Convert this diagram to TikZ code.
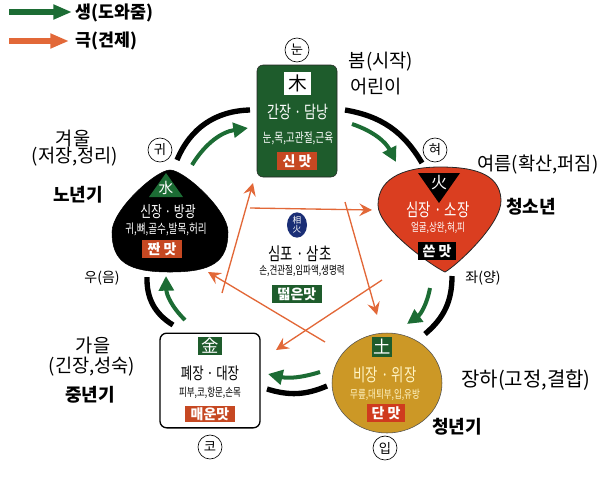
\documentclass[tikz,border=0pt]{standalone}
\usepackage{fontspec}
\setmainfont{Noto Sans CJK KR}
\newfontfamily\narrowkr[FakeStretch=0.75]{Noto Sans CJK KR}
\usetikzlibrary{arrows.meta,shapes.geometric}
\definecolor{woodgreen}{RGB}{30,92,44}
\definecolor{saenggreen}{RGB}{28,108,52}
\definecolor{geukorange}{RGB}{226,104,56}
\definecolor{firered}{RGB}{218,62,32}
\definecolor{earthgold}{RGB}{204,152,38}
\definecolor{tastered}{RGB}{198,72,34}
\definecolor{sanghwablue}{RGB}{26,46,118}
\definecolor{earthtext}{RGB}{255,244,196}
\tikzset{
	saeng/.style={line width=3pt, color=saenggreen, -{Triangle[length=11pt,width=11pt]}},
	ring/.style={line width=4pt},
	geuk/.style={line width=1pt, color=geukorange, -{Stealth[length=9.5pt,width=9.5pt,inset=3.5pt]}},
	organ/.style={font=\narrowkr\fontsize{13}{15}\selectfont},
	organsub/.style={font=\narrowkr\fontsize{8.5}{10}\selectfont},
	taste/.style={fill=tastered, text=white, inner xsep=2.5pt, inner ysep=0pt, minimum height=13pt, font=\bfseries\fontsize{10.5}{12}\selectfont},
	symbox/.style={fill=woodgreen, text=white, inner sep=0pt, font=\fontsize{13}{13}\selectfont},
	gate/.style={circle, draw, line width=0.5pt, inner sep=0pt, minimum size=18pt, font=\fontsize{10}{10}\selectfont},
	season/.style={font=\fontsize{14}{16}\selectfont},
	age/.style={font=\bfseries\fontsize{13.5}{15}\selectfont},
}

\begin{document}
\begin{tikzpicture}[x=0.75pt, y=-0.75pt]
	%%%%% START %%%%%
	\useasboundingbox (0,0) rectangle (606,493);
	
	\coordinate (sgtail) at (9,12);
	\coordinate (sghead) at (72,12);
	\draw[saeng, line width=3.8pt, -{Triangle[length=14pt,width=10.5pt]}] (sgtail) -- (sghead);
	\node[anchor=west, font=\bfseries\fontsize{13}{15}\selectfont] (sglabel) at (71,13) {생(도와줌)};
	\coordinate (gktail) at (9,41);
	\coordinate (gkhead) at (69,41);
	\draw[geuk, line width=3.8pt, -{Triangle[length=14pt,width=10.5pt]}] (gktail) -- (gkhead);
	\node[anchor=west, font=\bfseries\fontsize{13}{15}\selectfont] (gklabel) at (71,41) {극(견제)};
	
	\node[draw=black!85, fill=woodgreen, rounded corners=4.5pt, minimum width=60pt, minimum height=84pt] (wood) at (297,121) {};
	\node[fill=white, minimum width=20pt, minimum height=17pt, inner sep=0pt, font=\fontsize{14}{14}\selectfont] (woodsym) at (297.5,83.5) {木};
	\node[organ, text=white] (woodorgan) at (298,112) {간장 · 담낭};
	\node[organsub, text=white, font=\narrowkr\fontsize{9.7}{11}\selectfont] (woodpart) at (298,138) {눈,목,고관절,근육};
	\node[taste, minimum width=30pt] (woodtaste) at (297,161) {신 맛};
	
	\draw[fill=firered, draw=black!85, line width=0.6pt] (440,167) .. controls (470,167) and (500,172) .. (501,200) .. controls (502,224) and (456,266) .. (445,272) .. controls (432,266) and (378,228) .. (378,205) .. controls (378,175) and (410,167) .. (440,167);
	\fill[black] (418,173) -- (460,173) -- (439,203) -- cycle;
	\node[text=white, inner sep=0pt, font=\fontsize{12}{12}\selectfont] (firesym) at (439,183) {火};
	\node[organ, text=white, font=\narrowkr\fontsize{13.4}{15}\selectfont] (fireorgan) at (438,210) {심장 · 소장};
	\node[organsub, text=white] (firepart) at (438,228) {얼굴,상완,혀,피};
	\node[taste, fill=black, minimum width=29pt] (firetaste) at (437,251) {쓴 맛};
	
	\draw[fill=black] (170,170) .. controls (184,170) and (228,210) .. (228,232) .. controls (228,262) and (212,272) .. (170,272) .. controls (128,272) and (112,262) .. (112,232) .. controls (112,210) and (156,170) .. (170,170);
	\fill[saenggreen] (166,173) -- (183,197) -- (149,197) -- cycle;
	\node[text=white, inner sep=0pt, font=\fontsize{11}{11}\selectfont] (watersym) at (166,188) {水};
	\node[organ, text=white, font=\narrowkr\fontsize{11.8}{13}\selectfont] (waterorgan) at (168,212) {신장 · 방광};
	\node[organsub, text=white, font=\narrowkr\fontsize{9.6}{11}\selectfont] (waterpart) at (166,229) {귀,뼈,골수,발목,허리};
	\node[taste, minimum width=30pt] (watertaste) at (162,249) {짠 맛};
	
	\node[ellipse, draw=black!70, fill=earthgold, minimum width=82.5pt, minimum height=75pt] (earth) at (387,383) {};
	\node[symbox, minimum size=15pt] (earthsym) at (382,347) {土};
	\node[organ, text=earthtext, font=\narrowkr\fontsize{13.4}{15}\selectfont] (earthorgan) at (385,375) {비장 · 위장};
	\node[organsub, text=earthtext] (earthpart) at (385,395) {무릎,대퇴부,입,유방};
	\node[taste, fill=firered!95!black, minimum width=28.5pt] (earthtaste) at (386,413) {단 맛};
	
	\node[draw=black, line width=1pt, fill=white, rounded corners=5pt, minimum width=75pt, minimum height=71pt] (metal) at (210,380.5) {};
	\node[symbox, minimum width=18pt, minimum height=13.5pt] (metalsym) at (210,346) {金};
	\node[organ, font=\narrowkr\fontsize{12.4}{14}\selectfont] (metalorgan) at (210,373) {폐장 · 대장};
	\node[organsub] (metalpart) at (210,393) {피부,코,항문,손목};
	\node[taste, minimum width=37.5pt, minimum height=11.5pt] (metaltaste) at (210,414) {매운맛};
	
	\node[ellipse, fill=sanghwablue, text=white, inner sep=0pt, minimum width=15pt, minimum height=19pt, align=center, font=\fontsize{6.5}{7}\selectfont] (sanghwa) at (297,225) {相\\火};
	\node[organ, font=\narrowkr\fontsize{13.4}{15}\selectfont] (centerorgan) at (300,254) {심포 · 삼초};
	\node[organsub] (centerpart) at (302,271) {손,견관절,임파액,생명력};
	\node[taste, fill=woodgreen, minimum width=38pt] (centertaste) at (297,294) {떫은맛};
	
	\node[gate] (nungate) at (297,50) {눈};
	\node[gate] (hyeogate) at (435,150) {혀};
	\node[gate] (gwigate) at (160,150) {귀};
	\node[gate] (kogate) at (210,447) {코};
	\node[gate] (ipgate) at (385,448) {입};
	
	\node[season] (spring) at (381,62) {봄(시작)};
	\node[season] (child) at (376,87) {어린이};
	\node[season] (summer) at (538,165) {여름(확산,퍼짐)};
	\node[age] (teen) at (531,207) {청소년};
	\node[font=\fontsize{10.5}{12}\selectfont] (yang) at (483,278) {좌(양)};
	\node[season, font=\fontsize{15}{17}\selectfont] (latesummer) at (526,380) {장하(고정,결합)};
	\node[age] (youth) at (457,427) {청년기};
	\node[season] (winter) at (73,138) {겨울};
	\node[season] (winterkey) at (75,157) {(저장,정리)};
	\node[age] (old) at (78,195) {노년기};
	\node[font=\fontsize{10.5}{12}\selectfont] (yin) at (102,278) {우(음)};
	\node[season] (autumn) at (93,345) {가을};
	\node[season] (autumnkey) at (92,367) {(긴장,성숙)};
	\node[age] (middle) at (90,395) {중년기};
	
	\coordinate (wfring1) at (345,110);
	\coordinate (wfring2) at (422,163);
	\coordinate (feRing1) at (452,276);
	\coordinate (feRing2) at (425,334);
	\coordinate (emring1) at (327,386);
	\coordinate (emring2) at (267,389);
	\coordinate (mwring1) at (173,325);
	\coordinate (mwring2) at (147,277);
	\coordinate (wwring1) at (177,160);
	\coordinate (wwring2) at (250,110);
	\draw[ring] (wfring1) to[bend left=25] (wfring2);
	\draw[ring] (feRing1) to[bend left=25] (feRing2);
	\draw[ring] (emring1) to[bend left=20] (emring2);
	\draw[ring] (mwring1) to[bend left=30] (mwring2);
	\draw[ring] (wwring1) to[bend left=33] (wwring2);
	
	\coordinate (wfsaeng1) at (352,124);
	\coordinate (wfsaeng2) at (396,162);
	\coordinate (fesaeng1) at (430,288);
	\coordinate (fesaeng2) at (407,324);
	\coordinate (emsaeng1) at (320,372);
	\coordinate (emsaeng2) at (268,374);
	\coordinate (mwsaeng1) at (185,320);
	\coordinate (mwsaeng2) at (166,276);
	\coordinate (wwsaeng1) at (192,165);
	\coordinate (wwsaeng2) at (248,128);
	\draw[saeng] (wfsaeng1) to[bend left=22] (wfsaeng2);
	\draw[saeng] (fesaeng1) to[bend left=22] (fesaeng2);
	\draw[saeng] (emsaeng1) to[bend left=15] (emsaeng2);
	\draw[saeng] (mwsaeng1) to[bend left=22] (mwsaeng2);
	\draw[saeng] (wwsaeng1) to[bend left=25] (wwsaeng2);
	
	\coordinate (weGeuk1) at (345,202);
	\coordinate (weGeuk2) at (377,315);
	\coordinate (ewGeuk1) at (325,342);
	\coordinate (ewGeuk2) at (208,272);
	\coordinate (wfGeuk1) at (250,208);
	\coordinate (wfGeuk2) at (372,210);
	\coordinate (fmGeuk1) at (382,280);
	\coordinate (fmGeuk2) at (276,350);
	\coordinate (mwGeuk1) at (222,293);
	\coordinate (mwGeuk2) at (253,183);
	\draw[geuk] (weGeuk1) -- (weGeuk2);
	\draw[geuk] (ewGeuk1) -- (ewGeuk2);
	\draw[geuk] (wfGeuk1) -- (wfGeuk2);
	\draw[geuk] (fmGeuk1) -- (fmGeuk2);
	\draw[geuk] (mwGeuk1) -- (mwGeuk2);
	
	%%%%% END %%%%%
\end{tikzpicture}
\end{document}
